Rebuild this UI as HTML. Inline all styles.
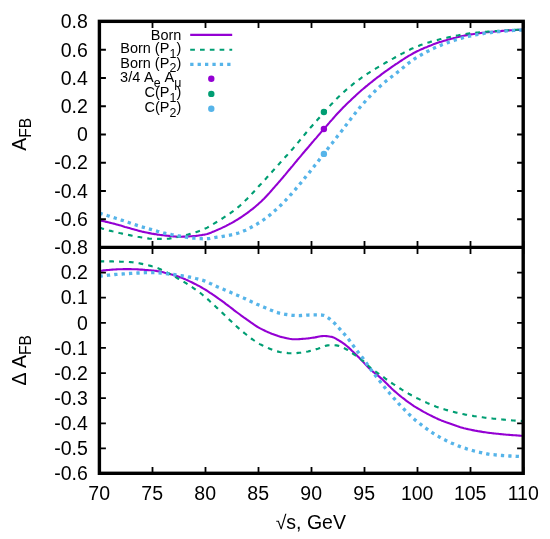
<!DOCTYPE html>
<html><head><meta charset="utf-8"><title>A_FB</title>
<style>
html,body{margin:0;padding:0;background:#fff;}
svg{display:block;}
text{font-family:"Liberation Sans",Arial,Helvetica,sans-serif;fill:#000;}
.t{font-size:19.5px;}
.k{font-size:14.5px;}
</style></head><body>
<svg width="550" height="539" viewBox="0 0 550 539">
<rect width="550" height="539" fill="#fff"/>
<defs><clipPath id="c1"><rect x="99.5" y="21.5" width="424.0" height="226.0"/></clipPath>
<clipPath id="c2"><rect x="99.5" y="247.5" width="424.0" height="226.0"/></clipPath></defs>

<g fill="none" stroke-linejoin="round" clip-path="url(#c1)">
<path d="M99.5,220.3 L100.9,220.6 L102.3,220.9 L103.8,221.2 L105.2,221.6 L106.6,221.9 L108.0,222.2 L109.4,222.6 L110.8,222.9 L112.3,223.3 L113.7,223.6 L115.1,224.0 L116.5,224.4 L117.9,224.8 L119.4,225.2 L120.8,225.6 L122.2,226.0 L123.6,226.4 L125.0,226.9 L126.4,227.3 L127.9,227.7 L129.3,228.1 L130.7,228.5 L132.1,228.9 L133.5,229.3 L135.0,229.7 L136.4,230.1 L137.8,230.5 L139.2,230.9 L140.6,231.2 L142.0,231.6 L143.5,231.9 L144.9,232.2 L146.3,232.5 L147.7,232.8 L149.1,233.1 L150.6,233.4 L152.0,233.7 L153.4,233.9 L154.8,234.1 L156.2,234.3 L157.6,234.6 L159.1,234.8 L160.5,235.0 L161.9,235.1 L163.3,235.3 L164.7,235.5 L166.1,235.6 L167.6,235.8 L169.0,235.9 L170.4,236.1 L171.8,236.3 L173.2,236.4 L174.7,236.5 L176.1,236.6 L177.5,236.7 L178.9,236.7 L180.3,236.7 L181.7,236.7 L183.2,236.6 L184.6,236.6 L186.0,236.5 L187.4,236.5 L188.8,236.4 L190.3,236.3 L191.7,236.2 L193.1,236.1 L194.5,236.0 L195.9,235.9 L197.3,235.7 L198.8,235.5 L200.2,235.3 L201.6,235.1 L203.0,234.8 L204.4,234.6 L205.9,234.3 L207.3,233.9 L208.7,233.4 L210.1,232.9 L211.5,232.4 L212.9,231.8 L214.4,231.2 L215.8,230.6 L217.2,230.0 L218.6,229.4 L220.0,228.8 L221.5,228.1 L222.9,227.4 L224.3,226.8 L225.7,226.1 L227.1,225.3 L228.5,224.6 L230.0,223.8 L231.4,223.1 L232.8,222.3 L234.2,221.5 L235.6,220.6 L237.1,219.8 L238.5,218.9 L239.9,218.0 L241.3,217.1 L242.7,216.2 L244.1,215.2 L245.6,214.2 L247.0,213.2 L248.4,212.1 L249.8,211.0 L251.2,209.9 L252.7,208.8 L254.1,207.7 L255.5,206.5 L256.9,205.3 L258.3,204.1 L259.7,202.8 L261.2,201.5 L262.6,200.1 L264.0,198.7 L265.4,197.2 L266.8,195.7 L268.2,194.2 L269.7,192.6 L271.1,191.0 L272.5,189.4 L273.9,187.8 L275.3,186.1 L276.8,184.5 L278.2,182.9 L279.6,181.3 L281.0,179.6 L282.4,178.0 L283.8,176.3 L285.3,174.6 L286.7,172.9 L288.1,171.2 L289.5,169.5 L290.9,167.8 L292.4,166.1 L293.8,164.4 L295.2,162.7 L296.6,161.0 L298.0,159.2 L299.4,157.6 L300.9,155.9 L302.3,154.2 L303.7,152.5 L305.1,150.8 L306.5,149.2 L308.0,147.5 L309.4,145.8 L310.8,144.2 L312.2,142.5 L313.6,140.9 L315.0,139.2 L316.5,137.6 L317.9,135.9 L319.3,134.3 L320.7,132.6 L322.1,131.0 L323.6,129.4 L325.0,127.8 L326.4,126.1 L327.8,124.5 L329.2,122.9 L330.6,121.2 L332.1,119.6 L333.5,118.0 L334.9,116.4 L336.3,114.8 L337.7,113.3 L339.2,111.7 L340.6,110.2 L342.0,108.8 L343.4,107.3 L344.8,105.9 L346.2,104.5 L347.7,103.1 L349.1,101.7 L350.5,100.4 L351.9,99.0 L353.3,97.7 L354.8,96.4 L356.2,95.1 L357.6,93.8 L359.0,92.5 L360.4,91.3 L361.8,90.0 L363.3,88.8 L364.7,87.6 L366.1,86.4 L367.5,85.3 L368.9,84.1 L370.3,83.0 L371.8,81.9 L373.2,80.7 L374.6,79.6 L376.0,78.5 L377.4,77.4 L378.9,76.4 L380.3,75.3 L381.7,74.2 L383.1,73.2 L384.5,72.1 L385.9,71.1 L387.4,70.1 L388.8,69.1 L390.2,68.1 L391.6,67.1 L393.0,66.1 L394.5,65.2 L395.9,64.2 L397.3,63.3 L398.7,62.3 L400.1,61.4 L401.5,60.5 L403.0,59.5 L404.4,58.6 L405.8,57.7 L407.2,56.8 L408.6,55.9 L410.1,55.1 L411.5,54.3 L412.9,53.5 L414.3,52.7 L415.7,52.0 L417.1,51.3 L418.6,50.6 L420.0,49.9 L421.4,49.3 L422.8,48.7 L424.2,48.0 L425.7,47.4 L427.1,46.9 L428.5,46.3 L429.9,45.7 L431.3,45.2 L432.7,44.6 L434.2,44.1 L435.6,43.6 L437.0,43.1 L438.4,42.6 L439.8,42.1 L441.3,41.7 L442.7,41.2 L444.1,40.8 L445.5,40.4 L446.9,40.0 L448.3,39.6 L449.8,39.2 L451.2,38.8 L452.6,38.4 L454.0,38.0 L455.4,37.7 L456.9,37.3 L458.3,37.0 L459.7,36.6 L461.1,36.3 L462.5,36.0 L463.9,35.7 L465.4,35.4 L466.8,35.1 L468.2,34.9 L469.6,34.6 L471.0,34.4 L472.4,34.2 L473.9,34.0 L475.3,33.8 L476.7,33.6 L478.1,33.4 L479.5,33.2 L481.0,33.0 L482.4,32.8 L483.8,32.7 L485.2,32.5 L486.6,32.3 L488.0,32.2 L489.5,32.0 L490.9,31.9 L492.3,31.8 L493.7,31.7 L495.1,31.5 L496.6,31.4 L498.0,31.3 L499.4,31.2 L500.8,31.1 L502.2,30.9 L503.6,30.8 L505.1,30.7 L506.5,30.6 L507.9,30.5 L509.3,30.4 L510.7,30.3 L512.2,30.2 L513.6,30.2 L515.0,30.1 L516.4,30.0 L517.8,29.9 L519.2,29.9 L520.7,29.8 L522.1,29.7 L523.5,29.7" stroke="#9400d3" stroke-width="2.1"/>
<path d="M99.5,227.7 L100.9,228.1 L102.3,228.6 L103.8,229.0 L105.2,229.4 L106.6,229.8 L108.0,230.2 L109.4,230.6 L110.8,230.9 L112.3,231.3 L113.7,231.6 L115.1,232.0 L116.5,232.3 L117.9,232.6 L119.4,233.0 L120.8,233.3 L122.2,233.6 L123.6,233.9 L125.0,234.2 L126.4,234.5 L127.9,234.8 L129.3,235.1 L130.7,235.4 L132.1,235.7 L133.5,236.0 L135.0,236.2 L136.4,236.5 L137.8,236.8 L139.2,237.0 L140.6,237.2 L142.0,237.5 L143.5,237.7 L144.9,238.0 L146.3,238.2 L147.7,238.4 L149.1,238.6 L150.6,238.7 L152.0,238.8 L153.4,238.8 L154.8,238.8 L156.2,238.8 L157.6,238.8 L159.1,238.8 L160.5,238.8 L161.9,238.8 L163.3,238.8 L164.7,238.8 L166.1,238.8 L167.6,238.7 L169.0,238.6 L170.4,238.4 L171.8,238.2 L173.2,237.9 L174.7,237.6 L176.1,237.3 L177.5,237.0 L178.9,236.7 L180.3,236.4 L181.7,236.1 L183.2,235.8 L184.6,235.5 L186.0,235.1 L187.4,234.7 L188.8,234.3 L190.3,233.9 L191.7,233.5 L193.1,233.1 L194.5,232.7 L195.9,232.2 L197.3,231.7 L198.8,231.2 L200.2,230.7 L201.6,230.1 L203.0,229.6 L204.4,228.9 L205.9,228.3 L207.3,227.6 L208.7,226.8 L210.1,225.9 L211.5,225.1 L212.9,224.2 L214.4,223.3 L215.8,222.5 L217.2,221.6 L218.6,220.7 L220.0,219.9 L221.5,219.0 L222.9,218.1 L224.3,217.2 L225.7,216.3 L227.1,215.3 L228.5,214.4 L230.0,213.4 L231.4,212.4 L232.8,211.4 L234.2,210.3 L235.6,209.2 L237.1,208.1 L238.5,206.9 L239.9,205.7 L241.3,204.4 L242.7,203.1 L244.1,201.7 L245.6,200.3 L247.0,198.9 L248.4,197.4 L249.8,195.9 L251.2,194.4 L252.7,192.9 L254.1,191.4 L255.5,189.8 L256.9,188.3 L258.3,186.8 L259.7,185.3 L261.2,183.8 L262.6,182.3 L264.0,180.8 L265.4,179.2 L266.8,177.6 L268.2,176.1 L269.7,174.5 L271.1,172.9 L272.5,171.3 L273.9,169.7 L275.3,168.1 L276.8,166.6 L278.2,165.0 L279.6,163.4 L281.0,161.8 L282.4,160.3 L283.8,158.7 L285.3,157.1 L286.7,155.6 L288.1,154.0 L289.5,152.4 L290.9,150.8 L292.4,149.2 L293.8,147.6 L295.2,146.0 L296.6,144.3 L298.0,142.6 L299.4,140.9 L300.9,139.1 L302.3,137.4 L303.7,135.7 L305.1,134.0 L306.5,132.3 L308.0,130.6 L309.4,129.0 L310.8,127.3 L312.2,125.7 L313.6,124.1 L315.0,122.5 L316.5,120.9 L317.9,119.3 L319.3,117.7 L320.7,116.1 L322.1,114.5 L323.6,113.0 L325.0,111.4 L326.4,109.9 L327.8,108.3 L329.2,106.7 L330.6,105.1 L332.1,103.6 L333.5,102.1 L334.9,100.6 L336.3,99.1 L337.7,97.7 L339.2,96.3 L340.6,94.9 L342.0,93.6 L343.4,92.3 L344.8,91.1 L346.2,89.8 L347.7,88.6 L349.1,87.4 L350.5,86.2 L351.9,85.1 L353.3,83.9 L354.8,82.8 L356.2,81.7 L357.6,80.6 L359.0,79.6 L360.4,78.6 L361.8,77.5 L363.3,76.6 L364.7,75.6 L366.1,74.6 L367.5,73.7 L368.9,72.8 L370.3,71.9 L371.8,71.0 L373.2,70.1 L374.6,69.3 L376.0,68.4 L377.4,67.6 L378.9,66.7 L380.3,65.9 L381.7,65.0 L383.1,64.2 L384.5,63.4 L385.9,62.5 L387.4,61.7 L388.8,60.9 L390.2,60.1 L391.6,59.3 L393.0,58.6 L394.5,57.8 L395.9,57.0 L397.3,56.3 L398.7,55.5 L400.1,54.7 L401.5,53.9 L403.0,53.2 L404.4,52.4 L405.8,51.6 L407.2,50.9 L408.6,50.2 L410.1,49.5 L411.5,48.8 L412.9,48.2 L414.3,47.5 L415.7,46.9 L417.1,46.4 L418.6,45.9 L420.0,45.3 L421.4,44.8 L422.8,44.3 L424.2,43.9 L425.7,43.4 L427.1,42.9 L428.5,42.5 L429.9,42.1 L431.3,41.6 L432.7,41.2 L434.2,40.8 L435.6,40.4 L437.0,40.1 L438.4,39.7 L439.8,39.3 L441.3,39.0 L442.7,38.6 L444.1,38.3 L445.5,38.0 L446.9,37.7 L448.3,37.3 L449.8,37.0 L451.2,36.7 L452.6,36.4 L454.0,36.1 L455.4,35.8 L456.9,35.5 L458.3,35.3 L459.7,35.0 L461.1,34.7 L462.5,34.5 L463.9,34.3 L465.4,34.0 L466.8,33.8 L468.2,33.6 L469.6,33.4 L471.0,33.3 L472.4,33.1 L473.9,32.9 L475.3,32.8 L476.7,32.6 L478.1,32.5 L479.5,32.3 L481.0,32.2 L482.4,32.1 L483.8,31.9 L485.2,31.8 L486.6,31.7 L488.0,31.6 L489.5,31.5 L490.9,31.4 L492.3,31.3 L493.7,31.2 L495.1,31.1 L496.6,31.0 L498.0,30.9 L499.4,30.8 L500.8,30.7 L502.2,30.6 L503.6,30.5 L505.1,30.4 L506.5,30.3 L507.9,30.2 L509.3,30.2 L510.7,30.1 L512.2,30.0 L513.6,29.9 L515.0,29.9 L516.4,29.8 L517.8,29.7 L519.2,29.7 L520.7,29.6 L522.1,29.6 L523.5,29.5" stroke="#009e73" stroke-width="2.15" stroke-dasharray="4.7 5.1"/>
<path d="M99.5,213.2 L100.9,213.6 L102.3,214.0 L103.8,214.5 L105.2,214.9 L106.6,215.3 L108.0,215.8 L109.4,216.2 L110.8,216.7 L112.3,217.1 L113.7,217.6 L115.1,218.0 L116.5,218.5 L117.9,218.9 L119.4,219.4 L120.8,219.9 L122.2,220.3 L123.6,220.8 L125.0,221.3 L126.4,221.7 L127.9,222.2 L129.3,222.7 L130.7,223.2 L132.1,223.7 L133.5,224.2 L135.0,224.7 L136.4,225.1 L137.8,225.6 L139.2,226.0 L140.6,226.5 L142.0,226.9 L143.5,227.3 L144.9,227.7 L146.3,228.1 L147.7,228.5 L149.1,228.9 L150.6,229.3 L152.0,229.7 L153.4,230.1 L154.8,230.5 L156.2,230.9 L157.6,231.3 L159.1,231.6 L160.5,232.0 L161.9,232.4 L163.3,232.8 L164.7,233.1 L166.1,233.5 L167.6,233.8 L169.0,234.1 L170.4,234.4 L171.8,234.7 L173.2,234.9 L174.7,235.2 L176.1,235.5 L177.5,235.7 L178.9,236.0 L180.3,236.2 L181.7,236.5 L183.2,236.7 L184.6,237.0 L186.0,237.2 L187.4,237.4 L188.8,237.6 L190.3,237.8 L191.7,238.0 L193.1,238.1 L194.5,238.2 L195.9,238.3 L197.3,238.4 L198.8,238.6 L200.2,238.6 L201.6,238.7 L203.0,238.8 L204.4,238.8 L205.9,238.8 L207.3,238.7 L208.7,238.6 L210.1,238.4 L211.5,238.1 L212.9,237.9 L214.4,237.6 L215.8,237.4 L217.2,237.2 L218.6,237.0 L220.0,236.8 L221.5,236.6 L222.9,236.3 L224.3,236.1 L225.7,235.9 L227.1,235.6 L228.5,235.4 L230.0,235.1 L231.4,234.8 L232.8,234.5 L234.2,234.1 L235.6,233.8 L237.1,233.4 L238.5,233.0 L239.9,232.5 L241.3,232.0 L242.7,231.4 L244.1,230.8 L245.6,230.2 L247.0,229.5 L248.4,228.8 L249.8,228.1 L251.2,227.3 L252.7,226.5 L254.1,225.7 L255.5,224.9 L256.9,224.1 L258.3,223.2 L259.7,222.4 L261.2,221.5 L262.6,220.5 L264.0,219.5 L265.4,218.5 L266.8,217.4 L268.2,216.3 L269.7,215.2 L271.1,214.0 L272.5,212.8 L273.9,211.5 L275.3,210.3 L276.8,209.0 L278.2,207.7 L279.6,206.4 L281.0,205.0 L282.4,203.6 L283.8,202.2 L285.3,200.7 L286.7,199.2 L288.1,197.7 L289.5,196.1 L290.9,194.5 L292.4,192.9 L293.8,191.2 L295.2,189.6 L296.6,187.9 L298.0,186.2 L299.4,184.5 L300.9,182.8 L302.3,181.0 L303.7,179.3 L305.1,177.6 L306.5,175.8 L308.0,174.1 L309.4,172.4 L310.8,170.6 L312.2,168.9 L313.6,167.1 L315.0,165.2 L316.5,163.4 L317.9,161.6 L319.3,159.7 L320.7,157.8 L322.1,156.0 L323.6,154.1 L325.0,152.3 L326.4,150.5 L327.8,148.7 L329.2,146.9 L330.6,145.0 L332.1,143.2 L333.5,141.4 L334.9,139.6 L336.3,137.8 L337.7,135.9 L339.2,134.1 L340.6,132.3 L342.0,130.5 L343.4,128.6 L344.8,126.8 L346.2,124.9 L347.7,123.0 L349.1,121.1 L350.5,119.3 L351.9,117.4 L353.3,115.5 L354.8,113.7 L356.2,111.9 L357.6,110.2 L359.0,108.5 L360.4,106.8 L361.8,105.2 L363.3,103.6 L364.7,102.0 L366.1,100.4 L367.5,98.9 L368.9,97.4 L370.3,95.9 L371.8,94.4 L373.2,92.9 L374.6,91.5 L376.0,90.1 L377.4,88.7 L378.9,87.4 L380.3,86.1 L381.7,84.8 L383.1,83.6 L384.5,82.4 L385.9,81.2 L387.4,80.1 L388.8,79.0 L390.2,77.9 L391.6,76.8 L393.0,75.7 L394.5,74.6 L395.9,73.5 L397.3,72.4 L398.7,71.2 L400.1,70.1 L401.5,68.9 L403.0,67.7 L404.4,66.6 L405.8,65.4 L407.2,64.3 L408.6,63.1 L410.1,62.0 L411.5,61.0 L412.9,60.0 L414.3,59.0 L415.7,58.1 L417.1,57.2 L418.6,56.3 L420.0,55.5 L421.4,54.7 L422.8,53.9 L424.2,53.1 L425.7,52.4 L427.1,51.6 L428.5,50.9 L429.9,50.2 L431.3,49.5 L432.7,48.8 L434.2,48.1 L435.6,47.5 L437.0,46.9 L438.4,46.3 L439.8,45.7 L441.3,45.1 L442.7,44.5 L444.1,44.0 L445.5,43.5 L446.9,43.0 L448.3,42.4 L449.8,41.9 L451.2,41.4 L452.6,41.0 L454.0,40.5 L455.4,40.0 L456.9,39.6 L458.3,39.1 L459.7,38.7 L461.1,38.3 L462.5,37.9 L463.9,37.5 L465.4,37.2 L466.8,36.8 L468.2,36.5 L469.6,36.2 L471.0,35.9 L472.4,35.6 L473.9,35.3 L475.3,35.0 L476.7,34.7 L478.1,34.4 L479.5,34.2 L481.0,33.9 L482.4,33.7 L483.8,33.5 L485.2,33.2 L486.6,33.0 L488.0,32.8 L489.5,32.6 L490.9,32.5 L492.3,32.3 L493.7,32.1 L495.1,32.0 L496.6,31.9 L498.0,31.7 L499.4,31.6 L500.8,31.4 L502.2,31.3 L503.6,31.2 L505.1,31.1 L506.5,30.9 L507.9,30.8 L509.3,30.7 L510.7,30.6 L512.2,30.5 L513.6,30.4 L515.0,30.3 L516.4,30.3 L517.8,30.2 L519.2,30.1 L520.7,30.1 L522.1,30.0 L523.5,30.0" stroke="#56b4e9" stroke-width="3.3" stroke-dasharray="3.3 4.1"/>
</g>
<g fill="none" stroke-linejoin="round" clip-path="url(#c2)">
<path d="M99.5,270.9 L100.9,270.7 L102.3,270.6 L103.8,270.4 L105.2,270.2 L106.6,270.1 L108.0,270.0 L109.4,269.9 L110.8,269.7 L112.3,269.6 L113.7,269.5 L115.1,269.5 L116.5,269.4 L117.9,269.3 L119.4,269.3 L120.8,269.2 L122.2,269.2 L123.6,269.1 L125.0,269.1 L126.4,269.1 L127.9,269.1 L129.3,269.1 L130.7,269.1 L132.1,269.2 L133.5,269.2 L135.0,269.3 L136.4,269.3 L137.8,269.4 L139.2,269.5 L140.6,269.6 L142.0,269.6 L143.5,269.7 L144.9,269.9 L146.3,270.0 L147.7,270.1 L149.1,270.2 L150.6,270.3 L152.0,270.5 L153.4,270.6 L154.8,270.8 L156.2,270.9 L157.6,271.2 L159.1,271.4 L160.5,271.7 L161.9,272.0 L163.3,272.3 L164.7,272.7 L166.1,273.0 L167.6,273.4 L169.0,273.8 L170.4,274.2 L171.8,274.6 L173.2,275.0 L174.7,275.4 L176.1,275.8 L177.5,276.3 L178.9,276.8 L180.3,277.3 L181.7,277.8 L183.2,278.4 L184.6,278.9 L186.0,279.6 L187.4,280.2 L188.8,280.9 L190.3,281.6 L191.7,282.3 L193.1,283.0 L194.5,283.7 L195.9,284.4 L197.3,285.2 L198.8,285.9 L200.2,286.7 L201.6,287.5 L203.0,288.3 L204.4,289.1 L205.9,290.0 L207.3,290.9 L208.7,291.8 L210.1,292.8 L211.5,293.7 L212.9,294.7 L214.4,295.7 L215.8,296.7 L217.2,297.7 L218.6,298.7 L220.0,299.6 L221.5,300.6 L222.9,301.7 L224.3,302.7 L225.7,303.8 L227.1,304.8 L228.5,305.9 L230.0,307.0 L231.4,308.1 L232.8,309.2 L234.2,310.3 L235.6,311.4 L237.1,312.5 L238.5,313.5 L239.9,314.5 L241.3,315.6 L242.7,316.6 L244.1,317.6 L245.6,318.6 L247.0,319.7 L248.4,320.7 L249.8,321.7 L251.2,322.7 L252.7,323.7 L254.1,324.7 L255.5,325.6 L256.9,326.5 L258.3,327.3 L259.7,328.1 L261.2,328.9 L262.6,329.6 L264.0,330.3 L265.4,331.0 L266.8,331.6 L268.2,332.3 L269.7,332.9 L271.1,333.5 L272.5,334.1 L273.9,334.6 L275.3,335.1 L276.8,335.6 L278.2,336.1 L279.6,336.5 L281.0,336.9 L282.4,337.2 L283.8,337.5 L285.3,337.9 L286.7,338.2 L288.1,338.5 L289.5,338.8 L290.9,339.0 L292.4,339.2 L293.8,339.3 L295.2,339.3 L296.6,339.3 L298.0,339.2 L299.4,339.1 L300.9,339.0 L302.3,338.9 L303.7,338.8 L305.1,338.7 L306.5,338.5 L308.0,338.4 L309.4,338.2 L310.8,338.0 L312.2,337.8 L313.6,337.6 L315.0,337.4 L316.5,337.1 L317.9,336.8 L319.3,336.5 L320.7,336.2 L322.1,336.1 L323.6,336.0 L325.0,336.0 L326.4,336.1 L327.8,336.3 L329.2,336.5 L330.6,336.7 L332.1,336.9 L333.5,337.4 L334.9,338.1 L336.3,338.9 L337.7,339.8 L339.2,340.6 L340.6,341.5 L342.0,342.4 L343.4,343.4 L344.8,344.4 L346.2,345.5 L347.7,346.7 L349.1,347.9 L350.5,349.3 L351.9,350.7 L353.3,352.0 L354.8,353.4 L356.2,354.8 L357.6,356.2 L359.0,357.6 L360.4,359.0 L361.8,360.5 L363.3,362.1 L364.7,363.6 L366.1,365.1 L367.5,366.6 L368.9,368.1 L370.3,369.4 L371.8,370.6 L373.2,371.9 L374.6,373.0 L376.0,374.2 L377.4,375.3 L378.9,376.4 L380.3,377.6 L381.7,378.8 L383.1,380.1 L384.5,381.4 L385.9,382.8 L387.4,384.2 L388.8,385.7 L390.2,387.1 L391.6,388.5 L393.0,389.8 L394.5,391.1 L395.9,392.3 L397.3,393.5 L398.7,394.7 L400.1,395.9 L401.5,397.0 L403.0,398.1 L404.4,399.2 L405.8,400.3 L407.2,401.4 L408.6,402.4 L410.1,403.4 L411.5,404.4 L412.9,405.3 L414.3,406.3 L415.7,407.2 L417.1,408.0 L418.6,408.9 L420.0,409.7 L421.4,410.5 L422.8,411.3 L424.2,412.1 L425.7,412.9 L427.1,413.7 L428.5,414.4 L429.9,415.1 L431.3,415.8 L432.7,416.5 L434.2,417.2 L435.6,417.9 L437.0,418.5 L438.4,419.2 L439.8,419.8 L441.3,420.4 L442.7,420.9 L444.1,421.5 L445.5,422.0 L446.9,422.6 L448.3,423.1 L449.8,423.6 L451.2,424.1 L452.6,424.6 L454.0,425.1 L455.4,425.6 L456.9,426.1 L458.3,426.5 L459.7,427.0 L461.1,427.4 L462.5,427.8 L463.9,428.2 L465.4,428.5 L466.8,428.9 L468.2,429.2 L469.6,429.5 L471.0,429.8 L472.4,430.1 L473.9,430.4 L475.3,430.7 L476.7,430.9 L478.1,431.2 L479.5,431.4 L481.0,431.6 L482.4,431.9 L483.8,432.1 L485.2,432.3 L486.6,432.5 L488.0,432.7 L489.5,432.9 L490.9,433.0 L492.3,433.2 L493.7,433.4 L495.1,433.5 L496.6,433.7 L498.0,433.8 L499.4,434.0 L500.8,434.1 L502.2,434.2 L503.6,434.4 L505.1,434.5 L506.5,434.7 L507.9,434.8 L509.3,434.9 L510.7,435.0 L512.2,435.1 L513.6,435.2 L515.0,435.3 L516.4,435.4 L517.8,435.5 L519.2,435.6 L520.7,435.7 L522.1,435.7 L523.5,435.8" stroke="#9400d3" stroke-width="2.1"/>
<path d="M99.5,261.3 L100.9,261.3 L102.3,261.3 L103.8,261.3 L105.2,261.3 L106.6,261.3 L108.0,261.4 L109.4,261.4 L110.8,261.4 L112.3,261.4 L113.7,261.5 L115.1,261.5 L116.5,261.5 L117.9,261.6 L119.4,261.6 L120.8,261.7 L122.2,261.7 L123.6,261.7 L125.0,261.8 L126.4,261.9 L127.9,261.9 L129.3,262.0 L130.7,262.1 L132.1,262.2 L133.5,262.4 L135.0,262.6 L136.4,262.8 L137.8,263.0 L139.2,263.3 L140.6,263.6 L142.0,263.9 L143.5,264.2 L144.9,264.5 L146.3,264.8 L147.7,265.2 L149.1,265.5 L150.6,265.9 L152.0,266.3 L153.4,266.6 L154.8,267.1 L156.2,267.6 L157.6,268.1 L159.1,268.7 L160.5,269.3 L161.9,269.9 L163.3,270.6 L164.7,271.3 L166.1,272.0 L167.6,272.8 L169.0,273.5 L170.4,274.3 L171.8,275.1 L173.2,275.9 L174.7,276.6 L176.1,277.4 L177.5,278.2 L178.9,279.0 L180.3,279.8 L181.7,280.6 L183.2,281.4 L184.6,282.3 L186.0,283.2 L187.4,284.1 L188.8,285.0 L190.3,285.9 L191.7,286.9 L193.1,287.8 L194.5,288.8 L195.9,289.8 L197.3,290.8 L198.8,291.9 L200.2,292.9 L201.6,294.0 L203.0,295.2 L204.4,296.4 L205.9,297.6 L207.3,298.9 L208.7,300.1 L210.1,301.5 L211.5,302.8 L212.9,304.1 L214.4,305.5 L215.8,306.8 L217.2,308.1 L218.6,309.5 L220.0,310.8 L221.5,312.1 L222.9,313.4 L224.3,314.7 L225.7,316.1 L227.1,317.5 L228.5,318.9 L230.0,320.2 L231.4,321.6 L232.8,323.0 L234.2,324.3 L235.6,325.6 L237.1,326.9 L238.5,328.1 L239.9,329.3 L241.3,330.5 L242.7,331.7 L244.1,332.8 L245.6,334.0 L247.0,335.1 L248.4,336.3 L249.8,337.4 L251.2,338.5 L252.7,339.5 L254.1,340.5 L255.5,341.5 L256.9,342.4 L258.3,343.3 L259.7,344.1 L261.2,344.8 L262.6,345.5 L264.0,346.2 L265.4,346.8 L266.8,347.5 L268.2,348.1 L269.7,348.7 L271.1,349.3 L272.5,349.9 L273.9,350.4 L275.3,350.9 L276.8,351.3 L278.2,351.6 L279.6,352.0 L281.0,352.2 L282.4,352.4 L283.8,352.6 L285.3,352.8 L286.7,352.9 L288.1,353.1 L289.5,353.2 L290.9,353.3 L292.4,353.4 L293.8,353.4 L295.2,353.3 L296.6,353.1 L298.0,352.9 L299.4,352.7 L300.9,352.6 L302.3,352.4 L303.7,352.2 L305.1,352.0 L306.5,351.7 L308.0,351.5 L309.4,351.1 L310.8,350.8 L312.2,350.4 L313.6,350.0 L315.0,349.6 L316.5,349.1 L317.9,348.7 L319.3,348.2 L320.7,347.7 L322.1,347.1 L323.6,346.5 L325.0,346.0 L326.4,345.6 L327.8,345.4 L329.2,345.2 L330.6,345.1 L332.1,345.0 L333.5,345.0 L334.9,345.2 L336.3,345.4 L337.7,345.6 L339.2,346.0 L340.6,346.5 L342.0,347.1 L343.4,347.8 L344.8,348.5 L346.2,349.2 L347.7,350.0 L349.1,350.9 L350.5,352.0 L351.9,353.0 L353.3,354.0 L354.8,354.9 L356.2,355.9 L357.6,356.8 L359.0,357.8 L360.4,358.8 L361.8,359.9 L363.3,361.1 L364.7,362.5 L366.1,363.8 L367.5,365.2 L368.9,366.4 L370.3,367.6 L371.8,368.7 L373.2,369.8 L374.6,370.8 L376.0,371.9 L377.4,372.9 L378.9,373.9 L380.3,374.9 L381.7,375.9 L383.1,376.9 L384.5,377.9 L385.9,379.0 L387.4,380.0 L388.8,381.0 L390.2,382.0 L391.6,383.0 L393.0,383.9 L394.5,384.8 L395.9,385.8 L397.3,386.7 L398.7,387.6 L400.1,388.5 L401.5,389.4 L403.0,390.3 L404.4,391.1 L405.8,392.0 L407.2,392.8 L408.6,393.7 L410.1,394.5 L411.5,395.3 L412.9,396.0 L414.3,396.8 L415.7,397.5 L417.1,398.2 L418.6,398.9 L420.0,399.6 L421.4,400.3 L422.8,400.9 L424.2,401.6 L425.7,402.2 L427.1,402.9 L428.5,403.5 L429.9,404.1 L431.3,404.7 L432.7,405.3 L434.2,405.8 L435.6,406.4 L437.0,406.9 L438.4,407.4 L439.8,407.9 L441.3,408.4 L442.7,408.9 L444.1,409.3 L445.5,409.7 L446.9,410.1 L448.3,410.5 L449.8,410.9 L451.2,411.3 L452.6,411.7 L454.0,412.0 L455.4,412.4 L456.9,412.7 L458.3,413.1 L459.7,413.4 L461.1,413.7 L462.5,414.0 L463.9,414.3 L465.4,414.6 L466.8,414.8 L468.2,415.1 L469.6,415.4 L471.0,415.6 L472.4,415.8 L473.9,416.1 L475.3,416.3 L476.7,416.5 L478.1,416.7 L479.5,416.9 L481.0,417.1 L482.4,417.3 L483.8,417.5 L485.2,417.7 L486.6,417.9 L488.0,418.0 L489.5,418.2 L490.9,418.4 L492.3,418.5 L493.7,418.7 L495.1,418.8 L496.6,418.9 L498.0,419.1 L499.4,419.2 L500.8,419.4 L502.2,419.5 L503.6,419.6 L505.1,419.8 L506.5,419.9 L507.9,420.0 L509.3,420.1 L510.7,420.2 L512.2,420.4 L513.6,420.5 L515.0,420.6 L516.4,420.7 L517.8,420.8 L519.2,420.9 L520.7,420.9 L522.1,421.0 L523.5,421.1" stroke="#009e73" stroke-width="2.15" stroke-dasharray="4.7 5.1"/>
<path d="M99.5,276.2 L100.9,276.0 L102.3,275.9 L103.8,275.7 L105.2,275.5 L106.6,275.4 L108.0,275.2 L109.4,275.1 L110.8,274.9 L112.3,274.8 L113.7,274.7 L115.1,274.5 L116.5,274.4 L117.9,274.3 L119.4,274.2 L120.8,274.1 L122.2,274.0 L123.6,273.9 L125.0,273.8 L126.4,273.7 L127.9,273.6 L129.3,273.5 L130.7,273.4 L132.1,273.4 L133.5,273.3 L135.0,273.2 L136.4,273.1 L137.8,273.0 L139.2,273.0 L140.6,272.9 L142.0,272.8 L143.5,272.8 L144.9,272.7 L146.3,272.7 L147.7,272.7 L149.1,272.6 L150.6,272.6 L152.0,272.6 L153.4,272.6 L154.8,272.6 L156.2,272.7 L157.6,272.8 L159.1,272.9 L160.5,273.0 L161.9,273.1 L163.3,273.3 L164.7,273.4 L166.1,273.6 L167.6,273.8 L169.0,274.0 L170.4,274.2 L171.8,274.4 L173.2,274.5 L174.7,274.7 L176.1,274.9 L177.5,275.1 L178.9,275.3 L180.3,275.5 L181.7,275.7 L183.2,276.0 L184.6,276.2 L186.0,276.4 L187.4,276.7 L188.8,277.0 L190.3,277.2 L191.7,277.5 L193.1,277.8 L194.5,278.1 L195.9,278.5 L197.3,278.8 L198.8,279.2 L200.2,279.5 L201.6,280.0 L203.0,280.4 L204.4,280.9 L205.9,281.5 L207.3,282.1 L208.7,282.7 L210.1,283.4 L211.5,284.0 L212.9,284.7 L214.4,285.4 L215.8,286.0 L217.2,286.7 L218.6,287.3 L220.0,287.9 L221.5,288.5 L222.9,289.1 L224.3,289.7 L225.7,290.3 L227.1,290.9 L228.5,291.5 L230.0,292.1 L231.4,292.7 L232.8,293.3 L234.2,294.0 L235.6,294.6 L237.1,295.2 L238.5,295.8 L239.9,296.4 L241.3,297.0 L242.7,297.7 L244.1,298.3 L245.6,298.9 L247.0,299.6 L248.4,300.3 L249.8,300.9 L251.2,301.6 L252.7,302.2 L254.1,302.9 L255.5,303.5 L256.9,304.2 L258.3,304.8 L259.7,305.4 L261.2,306.0 L262.6,306.6 L264.0,307.2 L265.4,307.8 L266.8,308.4 L268.2,309.0 L269.7,309.7 L271.1,310.3 L272.5,310.8 L273.9,311.4 L275.3,311.9 L276.8,312.4 L278.2,312.8 L279.6,313.2 L281.0,313.5 L282.4,313.7 L283.8,314.0 L285.3,314.3 L286.7,314.5 L288.1,314.7 L289.5,314.9 L290.9,315.1 L292.4,315.3 L293.8,315.4 L295.2,315.5 L296.6,315.6 L298.0,315.6 L299.4,315.6 L300.9,315.5 L302.3,315.4 L303.7,315.4 L305.1,315.3 L306.5,315.2 L308.0,315.1 L309.4,315.0 L310.8,315.0 L312.2,314.9 L313.6,314.9 L315.0,314.9 L316.5,314.9 L317.9,314.9 L319.3,315.0 L320.7,315.0 L322.1,315.1 L323.6,315.3 L325.0,315.8 L326.4,316.7 L327.8,317.6 L329.2,318.6 L330.6,319.7 L332.1,320.9 L333.5,322.2 L334.9,323.6 L336.3,325.2 L337.7,326.8 L339.2,328.3 L340.6,329.9 L342.0,331.5 L343.4,333.1 L344.8,334.7 L346.2,336.3 L347.7,338.0 L349.1,339.9 L350.5,341.8 L351.9,343.8 L353.3,345.7 L354.8,347.7 L356.2,349.6 L357.6,351.4 L359.0,353.2 L360.4,354.9 L361.8,356.8 L363.3,358.7 L364.7,360.7 L366.1,362.8 L367.5,364.8 L368.9,366.8 L370.3,368.7 L371.8,370.7 L373.2,372.5 L374.6,374.4 L376.0,376.3 L377.4,378.1 L378.9,379.9 L380.3,381.7 L381.7,383.5 L383.1,385.3 L384.5,387.1 L385.9,388.8 L387.4,390.6 L388.8,392.3 L390.2,394.0 L391.6,395.7 L393.0,397.3 L394.5,398.9 L395.9,400.5 L397.3,402.0 L398.7,403.6 L400.1,405.1 L401.5,406.6 L403.0,408.1 L404.4,409.6 L405.8,411.1 L407.2,412.5 L408.6,413.9 L410.1,415.3 L411.5,416.6 L412.9,417.9 L414.3,419.2 L415.7,420.4 L417.1,421.5 L418.6,422.7 L420.0,423.8 L421.4,424.9 L422.8,426.0 L424.2,427.0 L425.7,428.1 L427.1,429.1 L428.5,430.1 L429.9,431.1 L431.3,432.0 L432.7,433.0 L434.2,433.9 L435.6,434.7 L437.0,435.6 L438.4,436.4 L439.8,437.2 L441.3,438.0 L442.7,438.8 L444.1,439.5 L445.5,440.2 L446.9,440.9 L448.3,441.6 L449.8,442.2 L451.2,442.9 L452.6,443.5 L454.0,444.1 L455.4,444.7 L456.9,445.3 L458.3,445.9 L459.7,446.4 L461.1,447.0 L462.5,447.5 L463.9,448.0 L465.4,448.4 L466.8,448.9 L468.2,449.3 L469.6,449.7 L471.0,450.1 L472.4,450.5 L473.9,450.9 L475.3,451.2 L476.7,451.6 L478.1,452.0 L479.5,452.3 L481.0,452.6 L482.4,453.0 L483.8,453.3 L485.2,453.5 L486.6,453.8 L488.0,454.0 L489.5,454.3 L490.9,454.5 L492.3,454.6 L493.7,454.7 L495.1,454.9 L496.6,455.0 L498.0,455.1 L499.4,455.2 L500.8,455.4 L502.2,455.5 L503.6,455.6 L505.1,455.7 L506.5,455.8 L507.9,455.9 L509.3,456.0 L510.7,456.0 L512.2,456.1 L513.6,456.2 L515.0,456.2 L516.4,456.3 L517.8,456.3 L519.2,456.4 L520.7,456.4 L522.1,456.4 L523.5,456.4" stroke="#56b4e9" stroke-width="3.3" stroke-dasharray="3.3 4.1"/>
</g>
<circle cx="323.9" cy="129" r="3.2" fill="#9400d3"/>
<circle cx="323.9" cy="112" r="3.2" fill="#009e73"/>
<circle cx="323.9" cy="153.9" r="3.2" fill="#56b4e9"/>
<path d="M190.2,34.9 H232.2" stroke="#9400d3" stroke-width="2.1" fill="none"/>
<path d="M190.2,49.7 H232.2" stroke="#009e73" stroke-width="2.15" stroke-dasharray="4.7 5.1" fill="none"/>
<path d="M190.2,64.35 H232.2" stroke="#56b4e9" stroke-width="3.3" stroke-dasharray="3.3 4.1" fill="none"/>
<circle cx="211.3" cy="78.8" r="3.2" fill="#9400d3"/>
<circle cx="211.3" cy="93.9" r="3.2" fill="#009e73"/>
<circle cx="211.3" cy="108.8" r="3.2" fill="#56b4e9"/>
<text class="k" transform="translate(181.4,40.1) scale(1,1.05)" text-anchor="end">Born</text>
<text class="k" transform="translate(181.4,52.9) scale(1,1.05)" text-anchor="end">Born (P<tspan dy="4.4" font-size="12.4px" dx="0.15">1</tspan><tspan dy="-4.4" dx="0.15">)</tspan></text>
<text class="k" transform="translate(181.4,67.5) scale(1,1.05)" text-anchor="end">Born (P<tspan dy="4.4" font-size="12.4px" dx="0.15">2</tspan><tspan dy="-4.4" dx="0.15">)</tspan></text>
<text class="k" transform="translate(181.4,82.2) scale(1,1.05)" text-anchor="end">3/4<tspan dx="0.65"> A</tspan><tspan dy="4.4" font-size="12.4px">e</tspan><tspan dy="-4.4" dx="0.65"> A</tspan><tspan dy="4.4" font-size="12.4px">μ</tspan></text>
<text class="k" transform="translate(181.4,97.3) scale(1,1.05)" text-anchor="end">C(P<tspan dy="4.4" font-size="12.4px" dx="0.15">1</tspan><tspan dy="-4.4" dx="0.15">)</tspan></text>
<text class="k" transform="translate(181.4,112.2) scale(1,1.05)" text-anchor="end">C(P<tspan dy="4.4" font-size="12.4px" dx="0.15">2</tspan><tspan dy="-4.4" dx="0.15">)</tspan></text>
<path d="M99.5,21.5v6.4M99.5,247.5v-6.4M99.5,247.5v6.4M99.5,473.5v-6.4M152.5,21.5v6.4M152.5,247.5v-6.4M152.5,247.5v6.4M152.5,473.5v-6.4M205.5,21.5v6.4M205.5,247.5v-6.4M205.5,247.5v6.4M205.5,473.5v-6.4M258.5,21.5v6.4M258.5,247.5v-6.4M258.5,247.5v6.4M258.5,473.5v-6.4M311.5,21.5v6.4M311.5,247.5v-6.4M311.5,247.5v6.4M311.5,473.5v-6.4M364.5,21.5v6.4M364.5,247.5v-6.4M364.5,247.5v6.4M364.5,473.5v-6.4M417.5,21.5v6.4M417.5,247.5v-6.4M417.5,247.5v6.4M417.5,473.5v-6.4M470.5,21.5v6.4M470.5,247.5v-6.4M470.5,247.5v6.4M470.5,473.5v-6.4M523.5,21.5v6.4M523.5,247.5v-6.4M523.5,247.5v6.4M523.5,473.5v-6.4M99.5,21.50h6.4M523.5,21.50h-6.4M99.5,49.75h6.4M523.5,49.75h-6.4M99.5,78.00h6.4M523.5,78.00h-6.4M99.5,106.25h6.4M523.5,106.25h-6.4M99.5,134.50h6.4M523.5,134.50h-6.4M99.5,162.75h6.4M523.5,162.75h-6.4M99.5,191.00h6.4M523.5,191.00h-6.4M99.5,219.25h6.4M523.5,219.25h-6.4M99.5,247.50h6.4M523.5,247.50h-6.4M99.5,473.50h6.4M523.5,473.50h-6.4M99.5,448.39h6.4M523.5,448.39h-6.4M99.5,423.28h6.4M523.5,423.28h-6.4M99.5,398.17h6.4M523.5,398.17h-6.4M99.5,373.06h6.4M523.5,373.06h-6.4M99.5,347.94h6.4M523.5,347.94h-6.4M99.5,322.83h6.4M523.5,322.83h-6.4M99.5,297.72h6.4M523.5,297.72h-6.4M99.5,272.61h6.4M523.5,272.61h-6.4M99.5,247.50h6.4M523.5,247.50h-6.4" stroke="#000" stroke-width="1.8" fill="none"/>
<rect x="99.4" y="21.35" width="423.80000000000007" height="451.95" fill="none" stroke="#000" stroke-width="3.4"/>
<path d="M99.4,247.3H523.2" fill="none" stroke="#000" stroke-width="3.3"/>
<text class="t" x="87.8" y="28.2" text-anchor="end">0.8</text>
<text class="t" x="87.8" y="56.5" text-anchor="end">0.6</text>
<text class="t" x="87.8" y="84.7" text-anchor="end">0.4</text>
<text class="t" x="87.8" y="113.0" text-anchor="end">0.2</text>
<text class="t" x="87.8" y="141.2" text-anchor="end">0</text>
<text class="t" x="87.8" y="169.4" text-anchor="end">-0.2</text>
<text class="t" x="87.8" y="197.7" text-anchor="end">-0.4</text>
<text class="t" x="87.8" y="225.9" text-anchor="end">-0.6</text>
<text class="t" x="87.8" y="254.2" text-anchor="end">-0.8</text>
<text class="t" x="87.8" y="480.2" text-anchor="end">-0.6</text>
<text class="t" x="87.8" y="455.1" text-anchor="end">-0.5</text>
<text class="t" x="87.8" y="430.0" text-anchor="end">-0.4</text>
<text class="t" x="87.8" y="404.9" text-anchor="end">-0.3</text>
<text class="t" x="87.8" y="379.8" text-anchor="end">-0.2</text>
<text class="t" x="87.8" y="354.6" text-anchor="end">-0.1</text>
<text class="t" x="87.8" y="329.5" text-anchor="end">0</text>
<text class="t" x="87.8" y="304.4" text-anchor="end">0.1</text>
<text class="t" x="87.8" y="279.3" text-anchor="end">0.2</text>
<text class="t" x="99.2" y="499.6" text-anchor="middle">70</text>
<text class="t" x="152.2" y="499.6" text-anchor="middle">75</text>
<text class="t" x="205.2" y="499.6" text-anchor="middle">80</text>
<text class="t" x="258.2" y="499.6" text-anchor="middle">85</text>
<text class="t" x="311.2" y="499.6" text-anchor="middle">90</text>
<text class="t" x="364.2" y="499.6" text-anchor="middle">95</text>
<text class="t" x="417.2" y="499.6" text-anchor="middle">100</text>
<text class="t" x="470.2" y="499.6" text-anchor="middle">105</text>
<text class="t" x="523.2" y="499.6" text-anchor="middle">110</text>
<text class="t" x="310.8" y="529" text-anchor="middle">√s, GeV</text>
<text class="t" transform="translate(25.8,134.3) rotate(-90)" text-anchor="middle">A<tspan dy="4.9" font-size="15.6px">FB</tspan></text>
<text class="t" transform="translate(25.8,360.3) rotate(-90)" text-anchor="middle">Δ A<tspan dy="4.9" font-size="15.6px">FB</tspan></text>
</svg></body></html>
